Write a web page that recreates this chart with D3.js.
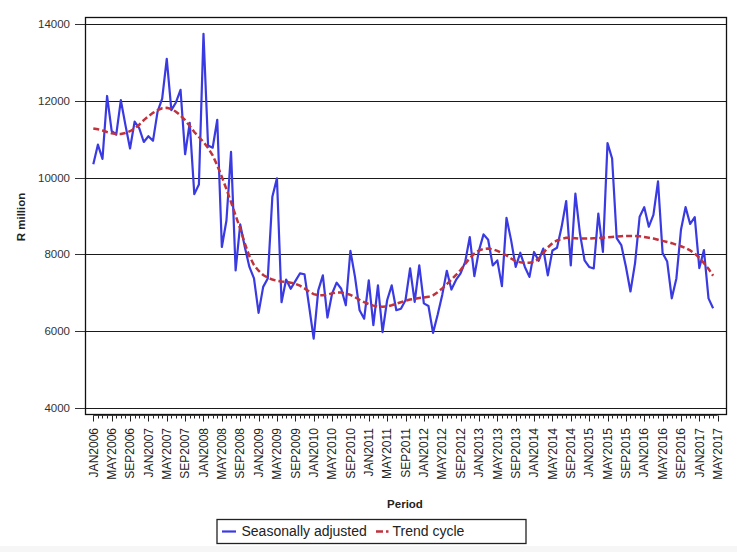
<!DOCTYPE html>
<html><head><meta charset="utf-8">
<script src="https://cdn.jsdelivr.net/npm/d3@7"></script>
<style>
body{margin:0;background:#fff;}
svg{display:block;font-family:Arial,"Liberation Sans",sans-serif;}
</style>
</head><body>
<svg id="chart" width="737" height="552"></svg>
<script>
// Monthly data, JAN2006 onward (R million)
const seasonallyAdjusted = [
  10350,10860,10490,12130,11220,11120,12020,11370,10760,11460,11290,10930,
  11080,10960,11720,12060,13100,11760,11960,12290,10610,11430,9570,9820,
  13750,10840,10780,11510,8190,8880,10670,7580,8780,8190,7670,7370,
  6470,7150,7370,9500,9980,6750,7340,7100,7300,7500,7480,6650,
  5800,7060,7450,6350,6970,7260,7100,6670,8090,7410,6540,6320,
  7320,6150,7190,5970,6800,7190,6540,6580,6800,7630,6760,7710,
  6720,6650,5950,6420,6940,7570,7080,7330,7500,7800,8450,7430,
  8100,8520,8380,7710,7840,7170,8950,8370,7670,8040,7670,7410,
  8060,7830,8150,7450,8100,8170,8710,9390,7710,9580,8540,7840,
  7670,7630,9060,8060,10900,10500,8420,8240,7680,7030,7770,8980,
  9230,8720,9030,9900,8030,7810,6850,7370,8640,9230,8790,8970,
  7640,8110,6850,6590
];
const trendCycle = [
  11280,11260,11230,11190,11160,11140,11140,11165,11210,11280,11380,11500,
  11600,11690,11760,11810,11820,11790,11720,11620,11500,11350,11190,11060,
  10930,10770,10580,10320,10020,9700,9360,9010,8670,8280,7950,7720,
  7570,7460,7390,7340,7310,7290,7280,7260,7230,7180,7110,7030,
  6960,6930,6930,6950,6980,7000,7000,6980,6940,6880,6810,6750,
  6700,6660,6640,6630,6640,6670,6710,6750,6790,6820,6840,6860,
  6870,6890,6930,7010,7110,7220,7340,7460,7590,7750,7900,8020,
  8100,8140,8150,8130,8090,8030,7970,7890,7820,7790,7780,7780,
  7800,7880,8030,8180,8290,8360,8400,8430,8430,8420,8410,8410,
  8410,8420,8420,8430,8440,8450,8460,8470,8480,8480,8480,8470,
  8450,8430,8410,8380,8350,8320,8290,8250,8210,8160,8100,8020,
  7910,7770,7620,7440
];
const xTickLabels = [
  "JAN2006","MAY2006","SEP2006","JAN2007","MAY2007","SEP2007",
  "JAN2008","MAY2008","SEP2008","JAN2009","MAY2009","SEP2009",
  "JAN2010","MAY2010","SEP2010","JAN2011","MAY2011","SEP2011",
  "JAN2012","MAY2012","SEP2012","JAN2013","MAY2013","SEP2013",
  "JAN2014","MAY2014","SEP2014","JAN2015","MAY2015","SEP2015",
  "JAN2016","MAY2016","SEP2016","JAN2017","MAY2017"
];
const yTickValues = [4000,6000,8000,10000,12000,14000];
const seriesNames = ["Seasonally adjusted","Trend cycle"];
const yTitle = "R million";
const xTitle = "Period";

const svg = d3.select("#chart");
const W = 737, H = 552;
const frame = {left:85, right:727, top:17, bottom:414};
const monthsPerLabel = 4;
const lastMonth = (xTickLabels.length - 1) * monthsPerLabel;

const x = d3.scaleLinear().domain([0, lastMonth]).range([93.3, 717.7]);
const y = d3.scaleLinear().domain([4000, 14000]).range([407.6, 24.3]);

svg.append("rect").attr("x",0).attr("y",0).attr("width",W).attr("height",H).attr("fill","#fff");
svg.append("rect").attr("x",0).attr("y",546).attr("width",W).attr("height",6).attr("fill","#f6f6f6");

// gridlines
const grid = svg.append("g");
grid.selectAll("line").data(yTickValues).join("line")
  .attr("x1", frame.left).attr("x2", frame.right)
  .attr("y1", d => Math.round(y(d)) + 0.5).attr("y2", d => Math.round(y(d)) + 0.5)
  .attr("stroke", "#1a1a1a").attr("stroke-width", 1);

// y axis
const yAxis = svg.append("g").attr("transform", `translate(${frame.left},0)`)
  .call(d3.axisLeft(y).tickValues(yTickValues).tickSize(10).tickPadding(5).tickFormat(d3.format("d")));
yAxis.select(".domain").remove();
yAxis.selectAll(".tick line").attr("stroke","#333").attr("transform","translate(0,0.5)");
yAxis.selectAll("text").attr("font-size","11.5px").attr("fill","#333")
  .attr("font-family","Arial, 'Liberation Sans', sans-serif");
yAxis.selectAll(".tick").attr("transform", d => `translate(0,${Math.round(y(d))})`);

// frame
svg.append("rect").attr("x", frame.left + 0.5).attr("y", frame.top + 0.5)
  .attr("width", frame.right - frame.left - 1).attr("height", frame.bottom - frame.top)
  .attr("fill","none").attr("stroke","#111").attr("stroke-width",1.3);

// x axis (separate below frame)
const xAxisY = 415.5;
const xg = svg.append("g");
xg.append("line").attr("x1", x(0)).attr("x2", x(lastMonth)).attr("y1", xAxisY).attr("y2", xAxisY)
  .attr("stroke","#444").attr("stroke-width",1);
const monthTicks = d3.range(0, lastMonth + 1);
xg.selectAll("line.t").data(monthTicks).join("line").attr("class","t")
  .attr("x1", d => Math.round(x(d)) + 0.5).attr("x2", d => Math.round(x(d)) + 0.5)
  .attr("y1", xAxisY).attr("y2", d => xAxisY + (d % monthsPerLabel === 0 ? 6 : 3))
  .attr("stroke","#222").attr("stroke-width",1);
xg.selectAll("text").data(xTickLabels).join("text")
  .attr("transform", (d,i) => `translate(${x(i*monthsPerLabel)},428) rotate(-90)`)
  .attr("text-anchor","end").attr("dy","0.35em")
  .attr("font-size","12px").attr("fill","#222").text(d => d);

// axis titles
svg.append("text").attr("transform","translate(21,217) rotate(-90)")
  .attr("text-anchor","middle").attr("dy","0.35em")
  .attr("font-size","11.5px").attr("font-weight","bold").attr("fill","#222").text(yTitle);
svg.append("text").attr("x",405).attr("y",504).attr("text-anchor","middle").attr("dy","0.35em")
  .attr("font-size","11.5px").attr("font-weight","bold").attr("fill","#222").text(xTitle);

// lines
const line = d3.line().x((d,i) => x(i)).y(d => y(d));
const blue = "#3a3ae2", red = "#c0323c";
svg.append("path").datum(seasonallyAdjusted).attr("d", line)
  .attr("fill","none").attr("stroke",blue).attr("stroke-width",2.2).attr("stroke-linejoin","round");
svg.append("path").datum(trendCycle).attr("d", line)
  .attr("fill","none").attr("stroke",red).attr("stroke-width",2.5).attr("stroke-dasharray","6,3");

// legend
const lg = svg.append("g");
lg.append("rect").attr("x",217).attr("y",519.5).attr("width",309).attr("height",24)
  .attr("fill","#fff").attr("stroke","#222").attr("stroke-width",1.3);
lg.append("line").attr("x1",222).attr("x2",236).attr("y1",531.5).attr("y2",531.5)
  .attr("stroke",blue).attr("stroke-width",2.2);
lg.append("text").attr("x",241.5).attr("y",531.5).attr("dy","0.35em")
  .attr("font-size","14px").attr("fill","#222").text(seriesNames[0]);
lg.append("line").attr("x1",376).attr("x2",388.5).attr("y1",531.5).attr("y2",531.5)
  .attr("stroke",red).attr("stroke-width",2.5).attr("stroke-dasharray","7,3");
lg.append("text").attr("x",392.5).attr("y",531.5).attr("dy","0.35em")
  .attr("font-size","14px").attr("fill","#222").text(seriesNames[1]);
</script>
</body></html>
